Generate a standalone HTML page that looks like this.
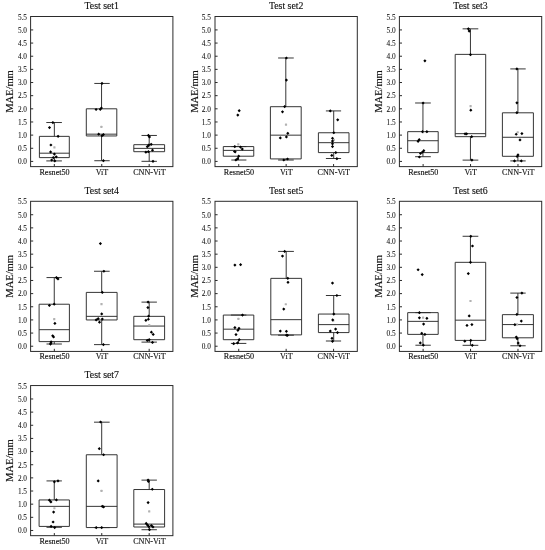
<!DOCTYPE html>
<html lang="en"><head><meta charset="utf-8"><title>Box plots of MAE on seven test sets</title>
<style>html,body{margin:0;padding:0;background:#fff}body{width:545px;height:550px;overflow:hidden}svg{display:block}</style>
</head><body>
<svg width="545" height="550" viewBox="0 0 545 550" font-family="Liberation Serif, Times New Roman, serif" fill="#111" stroke="#111" stroke-width="0.13" paint-order="stroke">
<rect width="545" height="550" fill="#fff" stroke="none"/>
<g>
<text x="101.75" y="9.1" font-size="9.8" text-anchor="middle">Test set1</text>
<text transform="translate(13.2,91.56) rotate(-90)" font-size="10.5" text-anchor="middle">MAE/mm</text>
<rect x="30.6" y="16.5" width="142.3" height="150.12" fill="none" stroke="#2b2b2b" stroke-width="1"/>
<text x="27" y="164.22" font-size="7.3" text-anchor="end" stroke-width="0.06">0.0</text>
<text x="27" y="151.07" font-size="7.3" text-anchor="end" stroke-width="0.06">0.5</text>
<text x="27" y="137.92" font-size="7.3" text-anchor="end" stroke-width="0.06">1.0</text>
<text x="27" y="124.77" font-size="7.3" text-anchor="end" stroke-width="0.06">1.5</text>
<text x="27" y="111.62" font-size="7.3" text-anchor="end" stroke-width="0.06">2.0</text>
<text x="27" y="98.47" font-size="7.3" text-anchor="end" stroke-width="0.06">2.5</text>
<text x="27" y="85.32" font-size="7.3" text-anchor="end" stroke-width="0.06">3.0</text>
<text x="27" y="72.17" font-size="7.3" text-anchor="end" stroke-width="0.06">3.5</text>
<text x="27" y="59.02" font-size="7.3" text-anchor="end" stroke-width="0.06">4.0</text>
<text x="27" y="45.87" font-size="7.3" text-anchor="end" stroke-width="0.06">4.5</text>
<text x="27" y="32.72" font-size="7.3" text-anchor="end" stroke-width="0.06">5.0</text>
<text x="27" y="19.57" font-size="7.3" text-anchor="end" stroke-width="0.06">5.5</text>
<path d="M30.6 161.42h2.6 M30.6 148.27h2.6 M30.6 135.12h2.6 M30.6 121.97h2.6 M30.6 108.82h2.6 M30.6 95.67h2.6 M30.6 82.52h2.6 M30.6 69.37h2.6 M30.6 56.22h2.6 M30.6 43.07h2.6 M30.6 29.92h2.6 M54.32 166.62v-2.6 M101.75 166.62v-2.6 M149.18 166.62v-2.6" stroke="#2b2b2b" stroke-width="1" fill="none"/>
<text x="54.52" y="175.37" font-size="8.15" text-anchor="middle">Resnet50</text>
<text x="101.95" y="175.37" font-size="8.15" text-anchor="middle">ViT</text>
<text x="149.38" y="175.37" font-size="8.15" text-anchor="middle">CNN-ViT</text>
<path d="M39.4 136.36H69.3V157.61H39.4Z M39.4 153.2H69.3 M54.35 136.36V122.53 M46.3 122.53H61.9 M54.35 157.61V160.92 M46.3 160.92H61.9" stroke="#2b2b2b" stroke-width="0.95" fill="none"/>
<rect x="53.3" y="146.29" width="2.2" height="2.2" rx="0.5" fill="#b2b2b2" stroke="none"/>
<path d="M52.9 120.93l1.6 1.6l-1.6 1.6l-1.6 -1.6Z M49.5 125.94l1.6 1.6l-1.6 1.6l-1.6 -1.6Z M58.1 134.76l1.6 1.6l-1.6 1.6l-1.6 -1.6Z M50.9 143.38l1.6 1.6l-1.6 1.6l-1.6 -1.6Z M50.6 150.3l1.6 1.6l-1.6 1.6l-1.6 -1.6Z M54.4 152.5l1.6 1.6l-1.6 1.6l-1.6 -1.6Z M56.2 155.21l1.6 1.6l-1.6 1.6l-1.6 -1.6Z M53.3 156.01l1.6 1.6l-1.6 1.6l-1.6 -1.6Z M51.7 158.52l1.6 1.6l-1.6 1.6l-1.6 -1.6Z M54.8 159.32l1.6 1.6l-1.6 1.6l-1.6 -1.6Z" fill="#000" stroke="none"/>
<path d="M86.3 108.8H116.8V135.96H86.3Z M86.3 134.16H116.8 M101.55 108.8V83.45 M94.3 83.45H109.7 M101.55 135.96V160.72 M94.3 160.72H109.7" stroke="#2b2b2b" stroke-width="0.95" fill="none"/>
<rect x="100.3" y="125.84" width="2.2" height="2.2" rx="0.5" fill="#b2b2b2" stroke="none"/>
<path d="M102 81.85l1.6 1.6l-1.6 1.6l-1.6 -1.6Z M101.4 106.4l1.6 1.6l-1.6 1.6l-1.6 -1.6Z M100.3 107.7l1.6 1.6l-1.6 1.6l-1.6 -1.6Z M96.1 107.9l1.6 1.6l-1.6 1.6l-1.6 -1.6Z M98.7 132.56l1.6 1.6l-1.6 1.6l-1.6 -1.6Z M103.4 132.96l1.6 1.6l-1.6 1.6l-1.6 -1.6Z M102 134.06l1.6 1.6l-1.6 1.6l-1.6 -1.6Z M103.4 159.12l1.6 1.6l-1.6 1.6l-1.6 -1.6Z" fill="#000" stroke="none"/>
<path d="M133.8 144.68H164.6V151.7H133.8Z M133.8 148.39H164.6 M149.2 144.68V135.46 M141.5 135.46H156.9 M149.2 151.7V161.32 M141.5 161.32H156.9" stroke="#2b2b2b" stroke-width="0.95" fill="none"/>
<rect x="148.1" y="145.29" width="2.2" height="2.2" rx="0.5" fill="#b2b2b2" stroke="none"/>
<path d="M148.4 133.86l1.6 1.6l-1.6 1.6l-1.6 -1.6Z M149.5 135.36l1.6 1.6l-1.6 1.6l-1.6 -1.6Z M151.2 142.68l1.6 1.6l-1.6 1.6l-1.6 -1.6Z M148.8 143.48l1.6 1.6l-1.6 1.6l-1.6 -1.6Z M147.3 145.09l1.6 1.6l-1.6 1.6l-1.6 -1.6Z M152.5 148.59l1.6 1.6l-1.6 1.6l-1.6 -1.6Z M148.4 150.1l1.6 1.6l-1.6 1.6l-1.6 -1.6Z M145.9 150.6l1.6 1.6l-1.6 1.6l-1.6 -1.6Z M153 159.72l1.6 1.6l-1.6 1.6l-1.6 -1.6Z" fill="#000" stroke="none"/>
</g>
<g>
<text x="286.15" y="9.1" font-size="9.8" text-anchor="middle">Test set2</text>
<text transform="translate(197.6,91.56) rotate(-90)" font-size="10.5" text-anchor="middle">MAE/mm</text>
<rect x="215" y="16.5" width="142.3" height="150.12" fill="none" stroke="#2b2b2b" stroke-width="1"/>
<text x="210.8" y="164.22" font-size="7.3" text-anchor="end" stroke-width="0.06">0.0</text>
<text x="210.8" y="151.07" font-size="7.3" text-anchor="end" stroke-width="0.06">0.5</text>
<text x="210.8" y="137.92" font-size="7.3" text-anchor="end" stroke-width="0.06">1.0</text>
<text x="210.8" y="124.77" font-size="7.3" text-anchor="end" stroke-width="0.06">1.5</text>
<text x="210.8" y="111.62" font-size="7.3" text-anchor="end" stroke-width="0.06">2.0</text>
<text x="210.8" y="98.47" font-size="7.3" text-anchor="end" stroke-width="0.06">2.5</text>
<text x="210.8" y="85.32" font-size="7.3" text-anchor="end" stroke-width="0.06">3.0</text>
<text x="210.8" y="72.17" font-size="7.3" text-anchor="end" stroke-width="0.06">3.5</text>
<text x="210.8" y="59.02" font-size="7.3" text-anchor="end" stroke-width="0.06">4.0</text>
<text x="210.8" y="45.87" font-size="7.3" text-anchor="end" stroke-width="0.06">4.5</text>
<text x="210.8" y="32.72" font-size="7.3" text-anchor="end" stroke-width="0.06">5.0</text>
<text x="210.8" y="19.57" font-size="7.3" text-anchor="end" stroke-width="0.06">5.5</text>
<path d="M215 161.42h2.6 M215 148.27h2.6 M215 135.12h2.6 M215 121.97h2.6 M215 108.82h2.6 M215 95.67h2.6 M215 82.52h2.6 M215 69.37h2.6 M215 56.22h2.6 M215 43.07h2.6 M215 29.92h2.6 M238.72 166.62v-2.6 M286.15 166.62v-2.6 M333.58 166.62v-2.6" stroke="#2b2b2b" stroke-width="1" fill="none"/>
<text x="238.92" y="175.37" font-size="8.15" text-anchor="middle">Resnet50</text>
<text x="286.35" y="175.37" font-size="8.15" text-anchor="middle">ViT</text>
<text x="333.78" y="175.37" font-size="8.15" text-anchor="middle">CNN-ViT</text>
<path d="M223.3 146.59H253.75V156.21H223.3Z M223.3 150.39H253.75 M231.3 146.59H246.4 M238.53 156.21V160.02 M231.3 160.02H246.4" stroke="#2b2b2b" stroke-width="0.95" fill="none"/>
<rect x="237.2" y="143.28" width="2.2" height="2.2" rx="0.5" fill="#b2b2b2" stroke="none"/>
<path d="M239.2 109.11l1.6 1.6l-1.6 1.6l-1.6 -1.6Z M237.8 113.52l1.6 1.6l-1.6 1.6l-1.6 -1.6Z M234.8 144.99l1.6 1.6l-1.6 1.6l-1.6 -1.6Z M240.5 145.49l1.6 1.6l-1.6 1.6l-1.6 -1.6Z M242.3 147.49l1.6 1.6l-1.6 1.6l-1.6 -1.6Z M234.5 149.9l1.6 1.6l-1.6 1.6l-1.6 -1.6Z M235.2 150.2l1.6 1.6l-1.6 1.6l-1.6 -1.6Z M238.7 154.61l1.6 1.6l-1.6 1.6l-1.6 -1.6Z M237.6 157.11l1.6 1.6l-1.6 1.6l-1.6 -1.6Z M235.9 158.42l1.6 1.6l-1.6 1.6l-1.6 -1.6Z" fill="#000" stroke="none"/>
<path d="M270.4 106.7H301.2V158.91H270.4Z M270.4 135.16H301.2 M285.8 106.7V57.99 M278.1 57.99H293.75 M285.8 158.91V160.02 M278.1 160.02H293.75" stroke="#2b2b2b" stroke-width="0.95" fill="none"/>
<rect x="284.9" y="123.44" width="2.2" height="2.2" rx="0.5" fill="#b2b2b2" stroke="none"/>
<path d="M286.4 56.39l1.6 1.6l-1.6 1.6l-1.6 -1.6Z M286.4 78.44l1.6 1.6l-1.6 1.6l-1.6 -1.6Z M284.7 105l1.6 1.6l-1.6 1.6l-1.6 -1.6Z M282.5 110.21l1.6 1.6l-1.6 1.6l-1.6 -1.6Z M287.8 131.76l1.6 1.6l-1.6 1.6l-1.6 -1.6Z M286.4 135.36l1.6 1.6l-1.6 1.6l-1.6 -1.6Z M280.3 136.37l1.6 1.6l-1.6 1.6l-1.6 -1.6Z M287.5 157.41l1.6 1.6l-1.6 1.6l-1.6 -1.6Z M283.8 158.42l1.6 1.6l-1.6 1.6l-1.6 -1.6Z" fill="#000" stroke="none"/>
<path d="M318.4 132.76H349V152.6H318.4Z M318.4 142.68H349 M333.7 132.76V110.91 M325.9 110.91H341.1 M333.7 152.6V158.51 M325.9 158.51H341.1" stroke="#2b2b2b" stroke-width="0.95" fill="none"/>
<rect x="332.7" y="138.87" width="2.2" height="2.2" rx="0.5" fill="#b2b2b2" stroke="none"/>
<path d="M330.3 109.31l1.6 1.6l-1.6 1.6l-1.6 -1.6Z M337.7 118.23l1.6 1.6l-1.6 1.6l-1.6 -1.6Z M333.8 131.16l1.6 1.6l-1.6 1.6l-1.6 -1.6Z M332.5 136.67l1.6 1.6l-1.6 1.6l-1.6 -1.6Z M332.5 139.47l1.6 1.6l-1.6 1.6l-1.6 -1.6Z M332.5 142.18l1.6 1.6l-1.6 1.6l-1.6 -1.6Z M332.5 144.99l1.6 1.6l-1.6 1.6l-1.6 -1.6Z M335.8 151l1.6 1.6l-1.6 1.6l-1.6 -1.6Z M331.8 153.8l1.6 1.6l-1.6 1.6l-1.6 -1.6Z M336.9 157.11l1.6 1.6l-1.6 1.6l-1.6 -1.6Z" fill="#000" stroke="none"/>
</g>
<g>
<text x="470.55" y="9.1" font-size="9.8" text-anchor="middle">Test set3</text>
<text transform="translate(382,91.56) rotate(-90)" font-size="10.5" text-anchor="middle">MAE/mm</text>
<rect x="399.4" y="16.5" width="142.3" height="150.12" fill="none" stroke="#2b2b2b" stroke-width="1"/>
<text x="395.7" y="164.22" font-size="7.3" text-anchor="end" stroke-width="0.06">0.0</text>
<text x="395.7" y="151.07" font-size="7.3" text-anchor="end" stroke-width="0.06">0.5</text>
<text x="395.7" y="137.92" font-size="7.3" text-anchor="end" stroke-width="0.06">1.0</text>
<text x="395.7" y="124.77" font-size="7.3" text-anchor="end" stroke-width="0.06">1.5</text>
<text x="395.7" y="111.62" font-size="7.3" text-anchor="end" stroke-width="0.06">2.0</text>
<text x="395.7" y="98.47" font-size="7.3" text-anchor="end" stroke-width="0.06">2.5</text>
<text x="395.7" y="85.32" font-size="7.3" text-anchor="end" stroke-width="0.06">3.0</text>
<text x="395.7" y="72.17" font-size="7.3" text-anchor="end" stroke-width="0.06">3.5</text>
<text x="395.7" y="59.02" font-size="7.3" text-anchor="end" stroke-width="0.06">4.0</text>
<text x="395.7" y="45.87" font-size="7.3" text-anchor="end" stroke-width="0.06">4.5</text>
<text x="395.7" y="32.72" font-size="7.3" text-anchor="end" stroke-width="0.06">5.0</text>
<text x="395.7" y="19.57" font-size="7.3" text-anchor="end" stroke-width="0.06">5.5</text>
<path d="M399.4 161.42h2.6 M399.4 148.27h2.6 M399.4 135.12h2.6 M399.4 121.97h2.6 M399.4 108.82h2.6 M399.4 95.67h2.6 M399.4 82.52h2.6 M399.4 69.37h2.6 M399.4 56.22h2.6 M399.4 43.07h2.6 M399.4 29.92h2.6 M423.12 166.62v-2.6 M470.55 166.62v-2.6 M517.98 166.62v-2.6" stroke="#2b2b2b" stroke-width="1" fill="none"/>
<text x="423.32" y="175.37" font-size="8.15" text-anchor="middle">Resnet50</text>
<text x="470.75" y="175.37" font-size="8.15" text-anchor="middle">ViT</text>
<text x="518.18" y="175.37" font-size="8.15" text-anchor="middle">CNN-ViT</text>
<path d="M407.7 131.65H438.2V152.6H407.7Z M407.7 140.72H438.2 M422.95 131.65V102.99 M415.1 102.99H430.8 M422.95 152.6V156.71 M415.1 156.71H430.8" stroke="#2b2b2b" stroke-width="0.95" fill="none"/>
<rect x="421.9" y="131.05" width="2.2" height="2.2" rx="0.5" fill="#b2b2b2" stroke="none"/>
<path d="M424.9 59.2l1.6 1.6l-1.6 1.6l-1.6 -1.6Z M423.1 101.39l1.6 1.6l-1.6 1.6l-1.6 -1.6Z M422.5 130.05l1.6 1.6l-1.6 1.6l-1.6 -1.6Z M426.9 130.05l1.6 1.6l-1.6 1.6l-1.6 -1.6Z M419.2 138.07l1.6 1.6l-1.6 1.6l-1.6 -1.6Z M418.1 139.77l1.6 1.6l-1.6 1.6l-1.6 -1.6Z M423.8 149.09l1.6 1.6l-1.6 1.6l-1.6 -1.6Z M422.5 150.5l1.6 1.6l-1.6 1.6l-1.6 -1.6Z M420.5 151.9l1.6 1.6l-1.6 1.6l-1.6 -1.6Z M419.4 155.41l1.6 1.6l-1.6 1.6l-1.6 -1.6Z" fill="#000" stroke="none"/>
<path d="M455.2 54.38H485.7V136.66H455.2Z M455.2 133.66H485.7 M470.45 54.38V28.83 M462.6 28.83H478.3 M470.45 136.66V160.12 M462.6 160.12H478.3" stroke="#2b2b2b" stroke-width="0.95" fill="none"/>
<rect x="469.5" y="105" width="2.2" height="2.2" rx="0.5" fill="#b2b2b2" stroke="none"/>
<path d="M468.4 27.23l1.6 1.6l-1.6 1.6l-1.6 -1.6Z M469.2 29.43l1.6 1.6l-1.6 1.6l-1.6 -1.6Z M470.5 53.08l1.6 1.6l-1.6 1.6l-1.6 -1.6Z M470.8 108.61l1.6 1.6l-1.6 1.6l-1.6 -1.6Z M465.1 132.26l1.6 1.6l-1.6 1.6l-1.6 -1.6Z M466.6 132.26l1.6 1.6l-1.6 1.6l-1.6 -1.6Z M471.7 135.06l1.6 1.6l-1.6 1.6l-1.6 -1.6Z M471.9 158.52l1.6 1.6l-1.6 1.6l-1.6 -1.6Z" fill="#000" stroke="none"/>
<path d="M502.4 112.81H533.4V156.31H502.4Z M502.4 137.27H533.4 M517.9 112.81V68.92 M510.3 68.92H525.7 M517.9 156.31V160.92 M510.3 160.92H525.7" stroke="#2b2b2b" stroke-width="0.95" fill="none"/>
<rect x="516.6" y="131.15" width="2.2" height="2.2" rx="0.5" fill="#b2b2b2" stroke="none"/>
<path d="M516.9 67.32l1.6 1.6l-1.6 1.6l-1.6 -1.6Z M516.9 101.19l1.6 1.6l-1.6 1.6l-1.6 -1.6Z M516.9 111.11l1.6 1.6l-1.6 1.6l-1.6 -1.6Z M516.2 132.66l1.6 1.6l-1.6 1.6l-1.6 -1.6Z M521.9 131.96l1.6 1.6l-1.6 1.6l-1.6 -1.6Z M520 138.37l1.6 1.6l-1.6 1.6l-1.6 -1.6Z M518 153.3l1.6 1.6l-1.6 1.6l-1.6 -1.6Z M517.1 154.91l1.6 1.6l-1.6 1.6l-1.6 -1.6Z M514.5 159.32l1.6 1.6l-1.6 1.6l-1.6 -1.6Z M521.3 159.32l1.6 1.6l-1.6 1.6l-1.6 -1.6Z" fill="#000" stroke="none"/>
</g>
<g>
<text x="101.75" y="193.9" font-size="9.8" text-anchor="middle">Test set4</text>
<text transform="translate(13.2,276.36) rotate(-90)" font-size="10.5" text-anchor="middle">MAE/mm</text>
<rect x="30.6" y="201.3" width="142.3" height="150.12" fill="none" stroke="#2b2b2b" stroke-width="1"/>
<text x="27" y="349.02" font-size="7.3" text-anchor="end" stroke-width="0.06">0.0</text>
<text x="27" y="335.87" font-size="7.3" text-anchor="end" stroke-width="0.06">0.5</text>
<text x="27" y="322.72" font-size="7.3" text-anchor="end" stroke-width="0.06">1.0</text>
<text x="27" y="309.57" font-size="7.3" text-anchor="end" stroke-width="0.06">1.5</text>
<text x="27" y="296.42" font-size="7.3" text-anchor="end" stroke-width="0.06">2.0</text>
<text x="27" y="283.27" font-size="7.3" text-anchor="end" stroke-width="0.06">2.5</text>
<text x="27" y="270.12" font-size="7.3" text-anchor="end" stroke-width="0.06">3.0</text>
<text x="27" y="256.97" font-size="7.3" text-anchor="end" stroke-width="0.06">3.5</text>
<text x="27" y="243.82" font-size="7.3" text-anchor="end" stroke-width="0.06">4.0</text>
<text x="27" y="230.67" font-size="7.3" text-anchor="end" stroke-width="0.06">4.5</text>
<text x="27" y="217.52" font-size="7.3" text-anchor="end" stroke-width="0.06">5.0</text>
<text x="27" y="204.37" font-size="7.3" text-anchor="end" stroke-width="0.06">5.5</text>
<path d="M30.6 346.22h2.6 M30.6 333.07h2.6 M30.6 319.92h2.6 M30.6 306.77h2.6 M30.6 293.62h2.6 M30.6 280.47h2.6 M30.6 267.32h2.6 M30.6 254.17h2.6 M30.6 241.02h2.6 M30.6 227.87h2.6 M30.6 214.72h2.6 M54.32 351.42v-2.6 M101.75 351.42v-2.6 M149.18 351.42v-2.6" stroke="#2b2b2b" stroke-width="1" fill="none"/>
<text x="54.52" y="359.32" font-size="8.15" text-anchor="middle">Resnet50</text>
<text x="101.95" y="359.32" font-size="8.15" text-anchor="middle">ViT</text>
<text x="149.38" y="359.32" font-size="8.15" text-anchor="middle">CNN-ViT</text>
<path d="M39.1 304.23H69.4V341.61H39.1Z M39.1 329.68H69.4 M54.25 304.23V277.57 M46.5 277.57H61.9 M54.25 341.61V344.01 M46.5 344.01H61.9" stroke="#2b2b2b" stroke-width="0.95" fill="none"/>
<rect x="53.1" y="318.06" width="2.2" height="2.2" rx="0.5" fill="#b2b2b2" stroke="none"/>
<path d="M56.4 275.97l1.6 1.6l-1.6 1.6l-1.6 -1.6Z M58 277.37l1.6 1.6l-1.6 1.6l-1.6 -1.6Z M54.2 302.53l1.6 1.6l-1.6 1.6l-1.6 -1.6Z M49.4 303.83l1.6 1.6l-1.6 1.6l-1.6 -1.6Z M54.9 321.87l1.6 1.6l-1.6 1.6l-1.6 -1.6Z M52.7 334.2l1.6 1.6l-1.6 1.6l-1.6 -1.6Z M53.6 335.4l1.6 1.6l-1.6 1.6l-1.6 -1.6Z M51.1 340.31l1.6 1.6l-1.6 1.6l-1.6 -1.6Z M50.9 341.61l1.6 1.6l-1.6 1.6l-1.6 -1.6Z M50.5 342.51l1.6 1.6l-1.6 1.6l-1.6 -1.6Z" fill="#000" stroke="none"/>
<path d="M86.3 292.4H117.1V319.96H86.3Z M86.3 316.35H117.1 M101.7 292.4V271.25 M94 271.25H109.7 M101.7 319.96V344.61 M94 344.61H109.7" stroke="#2b2b2b" stroke-width="0.95" fill="none"/>
<rect x="100.4" y="302.93" width="2.2" height="2.2" rx="0.5" fill="#b2b2b2" stroke="none"/>
<path d="M100.4 241.99l1.6 1.6l-1.6 1.6l-1.6 -1.6Z M103.9 269.65l1.6 1.6l-1.6 1.6l-1.6 -1.6Z M102.3 290.85l1.6 1.6l-1.6 1.6l-1.6 -1.6Z M101.7 312.35l1.6 1.6l-1.6 1.6l-1.6 -1.6Z M98.2 317.06l1.6 1.6l-1.6 1.6l-1.6 -1.6Z M102.3 317.46l1.6 1.6l-1.6 1.6l-1.6 -1.6Z M96.2 318.36l1.6 1.6l-1.6 1.6l-1.6 -1.6Z M99.5 320.57l1.6 1.6l-1.6 1.6l-1.6 -1.6Z M103.4 343.01l1.6 1.6l-1.6 1.6l-1.6 -1.6Z" fill="#000" stroke="none"/>
<path d="M133.8 316.35H164.6V339.7H133.8Z M133.8 326.07H164.6 M149.2 316.35V302.12 M141.5 302.12H156.9 M149.2 339.7V342.11 M141.5 342.11H156.9" stroke="#2b2b2b" stroke-width="0.95" fill="none"/>
<rect x="148.1" y="324.07" width="2.2" height="2.2" rx="0.5" fill="#b2b2b2" stroke="none"/>
<path d="M148.1 300.52l1.6 1.6l-1.6 1.6l-1.6 -1.6Z M147.9 305.93l1.6 1.6l-1.6 1.6l-1.6 -1.6Z M148.6 314.55l1.6 1.6l-1.6 1.6l-1.6 -1.6Z M148.4 317.66l1.6 1.6l-1.6 1.6l-1.6 -1.6Z M145.9 318.76l1.6 1.6l-1.6 1.6l-1.6 -1.6Z M151.4 330.59l1.6 1.6l-1.6 1.6l-1.6 -1.6Z M153.2 332.79l1.6 1.6l-1.6 1.6l-1.6 -1.6Z M149.2 338.1l1.6 1.6l-1.6 1.6l-1.6 -1.6Z M147.3 338.81l1.6 1.6l-1.6 1.6l-1.6 -1.6Z M152.5 340.81l1.6 1.6l-1.6 1.6l-1.6 -1.6Z" fill="#000" stroke="none"/>
</g>
<g>
<text x="286.15" y="193.9" font-size="9.8" text-anchor="middle">Test set5</text>
<text transform="translate(197.6,276.36) rotate(-90)" font-size="10.5" text-anchor="middle">MAE/mm</text>
<rect x="215" y="201.3" width="142.3" height="150.12" fill="none" stroke="#2b2b2b" stroke-width="1"/>
<text x="210.8" y="349.02" font-size="7.3" text-anchor="end" stroke-width="0.06">0.0</text>
<text x="210.8" y="335.87" font-size="7.3" text-anchor="end" stroke-width="0.06">0.5</text>
<text x="210.8" y="322.72" font-size="7.3" text-anchor="end" stroke-width="0.06">1.0</text>
<text x="210.8" y="309.57" font-size="7.3" text-anchor="end" stroke-width="0.06">1.5</text>
<text x="210.8" y="296.42" font-size="7.3" text-anchor="end" stroke-width="0.06">2.0</text>
<text x="210.8" y="283.27" font-size="7.3" text-anchor="end" stroke-width="0.06">2.5</text>
<text x="210.8" y="270.12" font-size="7.3" text-anchor="end" stroke-width="0.06">3.0</text>
<text x="210.8" y="256.97" font-size="7.3" text-anchor="end" stroke-width="0.06">3.5</text>
<text x="210.8" y="243.82" font-size="7.3" text-anchor="end" stroke-width="0.06">4.0</text>
<text x="210.8" y="230.67" font-size="7.3" text-anchor="end" stroke-width="0.06">4.5</text>
<text x="210.8" y="217.52" font-size="7.3" text-anchor="end" stroke-width="0.06">5.0</text>
<text x="210.8" y="204.37" font-size="7.3" text-anchor="end" stroke-width="0.06">5.5</text>
<path d="M215 346.22h2.6 M215 333.07h2.6 M215 319.92h2.6 M215 306.77h2.6 M215 293.62h2.6 M215 280.47h2.6 M215 267.32h2.6 M215 254.17h2.6 M215 241.02h2.6 M215 227.87h2.6 M215 214.72h2.6 M238.72 351.42v-2.6 M286.15 351.42v-2.6 M333.58 351.42v-2.6" stroke="#2b2b2b" stroke-width="1" fill="none"/>
<text x="238.92" y="359.32" font-size="8.15" text-anchor="middle">Resnet50</text>
<text x="286.35" y="359.32" font-size="8.15" text-anchor="middle">ViT</text>
<text x="333.78" y="359.32" font-size="8.15" text-anchor="middle">CNN-ViT</text>
<path d="M223.3 315.05H253.8V339.7H223.3Z M223.3 329.18H253.8 M230.9 315.05H246.35 M238.55 339.7V343.41 M230.9 343.41H246.35" stroke="#2b2b2b" stroke-width="0.95" fill="none"/>
<rect x="237.3" y="317.86" width="2.2" height="2.2" rx="0.5" fill="#b2b2b2" stroke="none"/>
<path d="M234.9 263.44l1.6 1.6l-1.6 1.6l-1.6 -1.6Z M240.6 263.04l1.6 1.6l-1.6 1.6l-1.6 -1.6Z M242.5 313.45l1.6 1.6l-1.6 1.6l-1.6 -1.6Z M234.9 325.98l1.6 1.6l-1.6 1.6l-1.6 -1.6Z M239 326.68l1.6 1.6l-1.6 1.6l-1.6 -1.6Z M237.9 328.68l1.6 1.6l-1.6 1.6l-1.6 -1.6Z M236 332.99l1.6 1.6l-1.6 1.6l-1.6 -1.6Z M239.2 338.1l1.6 1.6l-1.6 1.6l-1.6 -1.6Z M237.5 341.31l1.6 1.6l-1.6 1.6l-1.6 -1.6Z M233.7 342.11l1.6 1.6l-1.6 1.6l-1.6 -1.6Z" fill="#000" stroke="none"/>
<path d="M270.8 278.37H301.6V334.89H270.8Z M270.8 319.66H301.6 M286.2 278.37V251.41 M278.1 251.41H293.9 M286.2 334.89V335.19 M278.1 335.19H293.9" stroke="#2b2b2b" stroke-width="0.95" fill="none"/>
<rect x="284.7" y="303.13" width="2.2" height="2.2" rx="0.5" fill="#b2b2b2" stroke="none"/>
<path d="M284.7 249.81l1.6 1.6l-1.6 1.6l-1.6 -1.6Z M282.5 254.52l1.6 1.6l-1.6 1.6l-1.6 -1.6Z M287.8 276.77l1.6 1.6l-1.6 1.6l-1.6 -1.6Z M288 280.68l1.6 1.6l-1.6 1.6l-1.6 -1.6Z M283.75 307.44l1.6 1.6l-1.6 1.6l-1.6 -1.6Z M280.3 329.48l1.6 1.6l-1.6 1.6l-1.6 -1.6Z M286.4 329.69l1.6 1.6l-1.6 1.6l-1.6 -1.6Z M286.5 333.59l1.6 1.6l-1.6 1.6l-1.6 -1.6Z M287.5 333.69l1.6 1.6l-1.6 1.6l-1.6 -1.6Z" fill="#000" stroke="none"/>
<path d="M318.4 314.05H349V332.59H318.4Z M318.4 324.62H349 M333.7 314.05V295.51 M325.9 295.51H341.1 M333.7 332.59V341.01 M325.9 341.01H341.1" stroke="#2b2b2b" stroke-width="0.95" fill="none"/>
<rect x="332.1" y="319.46" width="2.2" height="2.2" rx="0.5" fill="#b2b2b2" stroke="none"/>
<path d="M332.5 281.48l1.6 1.6l-1.6 1.6l-1.6 -1.6Z M336.9 293.91l1.6 1.6l-1.6 1.6l-1.6 -1.6Z M333.8 312.45l1.6 1.6l-1.6 1.6l-1.6 -1.6Z M332.7 318.36l1.6 1.6l-1.6 1.6l-1.6 -1.6Z M335.6 327.48l1.6 1.6l-1.6 1.6l-1.6 -1.6Z M330.3 329.48l1.6 1.6l-1.6 1.6l-1.6 -1.6Z M337.5 330.99l1.6 1.6l-1.6 1.6l-1.6 -1.6Z M332 336.7l1.6 1.6l-1.6 1.6l-1.6 -1.6Z M332.5 339.71l1.6 1.6l-1.6 1.6l-1.6 -1.6Z" fill="#000" stroke="none"/>
</g>
<g>
<text x="470.55" y="193.9" font-size="9.8" text-anchor="middle">Test set6</text>
<text transform="translate(382,276.36) rotate(-90)" font-size="10.5" text-anchor="middle">MAE/mm</text>
<rect x="399.4" y="201.3" width="142.3" height="150.12" fill="none" stroke="#2b2b2b" stroke-width="1"/>
<text x="395.7" y="349.02" font-size="7.3" text-anchor="end" stroke-width="0.06">0.0</text>
<text x="395.7" y="335.87" font-size="7.3" text-anchor="end" stroke-width="0.06">0.5</text>
<text x="395.7" y="322.72" font-size="7.3" text-anchor="end" stroke-width="0.06">1.0</text>
<text x="395.7" y="309.57" font-size="7.3" text-anchor="end" stroke-width="0.06">1.5</text>
<text x="395.7" y="296.42" font-size="7.3" text-anchor="end" stroke-width="0.06">2.0</text>
<text x="395.7" y="283.27" font-size="7.3" text-anchor="end" stroke-width="0.06">2.5</text>
<text x="395.7" y="270.12" font-size="7.3" text-anchor="end" stroke-width="0.06">3.0</text>
<text x="395.7" y="256.97" font-size="7.3" text-anchor="end" stroke-width="0.06">3.5</text>
<text x="395.7" y="243.82" font-size="7.3" text-anchor="end" stroke-width="0.06">4.0</text>
<text x="395.7" y="230.67" font-size="7.3" text-anchor="end" stroke-width="0.06">4.5</text>
<text x="395.7" y="217.52" font-size="7.3" text-anchor="end" stroke-width="0.06">5.0</text>
<text x="395.7" y="204.37" font-size="7.3" text-anchor="end" stroke-width="0.06">5.5</text>
<path d="M399.4 346.22h2.6 M399.4 333.07h2.6 M399.4 319.92h2.6 M399.4 306.77h2.6 M399.4 293.62h2.6 M399.4 280.47h2.6 M399.4 267.32h2.6 M399.4 254.17h2.6 M399.4 241.02h2.6 M399.4 227.87h2.6 M399.4 214.72h2.6 M423.12 351.42v-2.6 M470.55 351.42v-2.6 M517.98 351.42v-2.6" stroke="#2b2b2b" stroke-width="1" fill="none"/>
<text x="423.32" y="359.32" font-size="8.15" text-anchor="middle">Resnet50</text>
<text x="470.75" y="359.32" font-size="8.15" text-anchor="middle">ViT</text>
<text x="518.18" y="359.32" font-size="8.15" text-anchor="middle">CNN-ViT</text>
<path d="M407.7 312.64H438.2V334.39H407.7Z M407.7 321.36H438.2 M415.4 312.64H430.8 M422.95 334.39V345.22 M415.4 345.22H430.8" stroke="#2b2b2b" stroke-width="0.95" fill="none"/>
<rect x="422" y="316.46" width="2.2" height="2.2" rx="0.5" fill="#b2b2b2" stroke="none"/>
<path d="M418.1 268.15l1.6 1.6l-1.6 1.6l-1.6 -1.6Z M422.2 272.96l1.6 1.6l-1.6 1.6l-1.6 -1.6Z M419.4 311.04l1.6 1.6l-1.6 1.6l-1.6 -1.6Z M419.4 316.26l1.6 1.6l-1.6 1.6l-1.6 -1.6Z M426.9 316.76l1.6 1.6l-1.6 1.6l-1.6 -1.6Z M423.6 322.47l1.6 1.6l-1.6 1.6l-1.6 -1.6Z M421.75 331.69l1.6 1.6l-1.6 1.6l-1.6 -1.6Z M424.9 332.79l1.6 1.6l-1.6 1.6l-1.6 -1.6Z M420.3 341.31l1.6 1.6l-1.6 1.6l-1.6 -1.6Z M423.3 343.62l1.6 1.6l-1.6 1.6l-1.6 -1.6Z" fill="#000" stroke="none"/>
<path d="M455.2 262.33H485.7V340.41H455.2Z M455.2 320.16H485.7 M470.45 262.33V236.28 M462.6 236.28H478.3 M470.45 340.41V345.32 M462.6 345.32H478.3" stroke="#2b2b2b" stroke-width="0.95" fill="none"/>
<rect x="469.4" y="299.92" width="2.2" height="2.2" rx="0.5" fill="#b2b2b2" stroke="none"/>
<path d="M470.8 234.68l1.6 1.6l-1.6 1.6l-1.6 -1.6Z M472.5 244.4l1.6 1.6l-1.6 1.6l-1.6 -1.6Z M470.5 260.73l1.6 1.6l-1.6 1.6l-1.6 -1.6Z M468.3 271.96l1.6 1.6l-1.6 1.6l-1.6 -1.6Z M469.2 314.3l1.6 1.6l-1.6 1.6l-1.6 -1.6Z M467 323.87l1.6 1.6l-1.6 1.6l-1.6 -1.6Z M471.9 323.02l1.6 1.6l-1.6 1.6l-1.6 -1.6Z M464.8 339.61l1.6 1.6l-1.6 1.6l-1.6 -1.6Z M470.8 338.81l1.6 1.6l-1.6 1.6l-1.6 -1.6Z M472.3 343.72l1.6 1.6l-1.6 1.6l-1.6 -1.6Z" fill="#000" stroke="none"/>
<path d="M502.4 314.65H533.4V337.8H502.4Z M502.4 324.57H533.4 M517.9 314.65V293.1 M510.3 293.1H525.7 M517.9 337.8V345.77 M510.3 345.77H525.7" stroke="#2b2b2b" stroke-width="0.95" fill="none"/>
<rect x="516" y="323.27" width="2.2" height="2.2" rx="0.5" fill="#b2b2b2" stroke="none"/>
<path d="M521.9 291.5l1.6 1.6l-1.6 1.6l-1.6 -1.6Z M516.9 295.91l1.6 1.6l-1.6 1.6l-1.6 -1.6Z M516.9 312.85l1.6 1.6l-1.6 1.6l-1.6 -1.6Z M521.3 319.46l1.6 1.6l-1.6 1.6l-1.6 -1.6Z M514.9 323.07l1.6 1.6l-1.6 1.6l-1.6 -1.6Z M516.3 335.45l1.6 1.6l-1.6 1.6l-1.6 -1.6Z M517.1 337.1l1.6 1.6l-1.6 1.6l-1.6 -1.6Z M518.2 341.51l1.6 1.6l-1.6 1.6l-1.6 -1.6Z M520 344.17l1.6 1.6l-1.6 1.6l-1.6 -1.6Z" fill="#000" stroke="none"/>
</g>
<g>
<text x="101.75" y="378.15" font-size="9.8" text-anchor="middle">Test set7</text>
<text transform="translate(13.2,460.61) rotate(-90)" font-size="10.5" text-anchor="middle">MAE/mm</text>
<rect x="30.6" y="385.55" width="142.3" height="150.12" fill="none" stroke="#2b2b2b" stroke-width="1"/>
<text x="27" y="533.27" font-size="7.3" text-anchor="end" stroke-width="0.06">0.0</text>
<text x="27" y="520.12" font-size="7.3" text-anchor="end" stroke-width="0.06">0.5</text>
<text x="27" y="506.97" font-size="7.3" text-anchor="end" stroke-width="0.06">1.0</text>
<text x="27" y="493.82" font-size="7.3" text-anchor="end" stroke-width="0.06">1.5</text>
<text x="27" y="480.67" font-size="7.3" text-anchor="end" stroke-width="0.06">2.0</text>
<text x="27" y="467.52" font-size="7.3" text-anchor="end" stroke-width="0.06">2.5</text>
<text x="27" y="454.37" font-size="7.3" text-anchor="end" stroke-width="0.06">3.0</text>
<text x="27" y="441.22" font-size="7.3" text-anchor="end" stroke-width="0.06">3.5</text>
<text x="27" y="428.07" font-size="7.3" text-anchor="end" stroke-width="0.06">4.0</text>
<text x="27" y="414.92" font-size="7.3" text-anchor="end" stroke-width="0.06">4.5</text>
<text x="27" y="401.77" font-size="7.3" text-anchor="end" stroke-width="0.06">5.0</text>
<text x="27" y="388.62" font-size="7.3" text-anchor="end" stroke-width="0.06">5.5</text>
<path d="M30.6 530.47h2.6 M30.6 517.32h2.6 M30.6 504.17h2.6 M30.6 491.02h2.6 M30.6 477.87h2.6 M30.6 464.72h2.6 M30.6 451.57h2.6 M30.6 438.42h2.6 M30.6 425.27h2.6 M30.6 412.12h2.6 M30.6 398.97h2.6 M54.32 535.67v-2.6 M101.75 535.67v-2.6 M149.18 535.67v-2.6" stroke="#2b2b2b" stroke-width="1" fill="none"/>
<text x="54.52" y="544.42" font-size="8.15" text-anchor="middle">Resnet50</text>
<text x="101.95" y="544.42" font-size="8.15" text-anchor="middle">ViT</text>
<text x="149.38" y="544.42" font-size="8.15" text-anchor="middle">CNN-ViT</text>
<path d="M39.1 499.95H69.4V526.41H39.1Z M39.1 506.37H69.4 M54.25 499.95V480.91 M46.5 480.91H61.9 M54.25 526.41V527.31 M46.5 527.31H61.9" stroke="#2b2b2b" stroke-width="0.95" fill="none"/>
<rect x="53.3" y="507.17" width="2.2" height="2.2" rx="0.5" fill="#b2b2b2" stroke="none"/>
<path d="M58 479.31l1.6 1.6l-1.6 1.6l-1.6 -1.6Z M54.4 480.21l1.6 1.6l-1.6 1.6l-1.6 -1.6Z M49.4 498.55l1.6 1.6l-1.6 1.6l-1.6 -1.6Z M56.4 498.35l1.6 1.6l-1.6 1.6l-1.6 -1.6Z M50.9 500.36l1.6 1.6l-1.6 1.6l-1.6 -1.6Z M53.6 510.48l1.6 1.6l-1.6 1.6l-1.6 -1.6Z M53.1 520.4l1.6 1.6l-1.6 1.6l-1.6 -1.6Z M51.1 524.81l1.6 1.6l-1.6 1.6l-1.6 -1.6Z M54.7 525.96l1.6 1.6l-1.6 1.6l-1.6 -1.6Z" fill="#000" stroke="none"/>
<path d="M86.3 454.75H117.1V527.56H86.3Z M86.3 506.37H117.1 M101.7 454.75V422.18 M94 422.18H109.65 M94 527.61H109.65" stroke="#2b2b2b" stroke-width="0.95" fill="none"/>
<rect x="100.4" y="489.83" width="2.2" height="2.2" rx="0.5" fill="#b2b2b2" stroke="none"/>
<path d="M100.6 420.38l1.6 1.6l-1.6 1.6l-1.6 -1.6Z M99.3 447.04l1.6 1.6l-1.6 1.6l-1.6 -1.6Z M103.6 453.15l1.6 1.6l-1.6 1.6l-1.6 -1.6Z M98.2 479.31l1.6 1.6l-1.6 1.6l-1.6 -1.6Z M102.3 504.77l1.6 1.6l-1.6 1.6l-1.6 -1.6Z M103.6 505.37l1.6 1.6l-1.6 1.6l-1.6 -1.6Z M96.2 525.96l1.6 1.6l-1.6 1.6l-1.6 -1.6Z M101.7 525.96l1.6 1.6l-1.6 1.6l-1.6 -1.6Z" fill="#000" stroke="none"/>
<path d="M133.8 489.53H164.6V527.01H133.8Z M133.8 524.1H164.6 M149.2 489.53V480.11 M141.5 480.11H156.9 M149.2 527.01V529.72 M141.5 529.72H156.9" stroke="#2b2b2b" stroke-width="0.95" fill="none"/>
<rect x="148.1" y="510.28" width="2.2" height="2.2" rx="0.5" fill="#b2b2b2" stroke="none"/>
<path d="M148.1 478.51l1.6 1.6l-1.6 1.6l-1.6 -1.6Z M148.4 479.91l1.6 1.6l-1.6 1.6l-1.6 -1.6Z M152.3 487.63l1.6 1.6l-1.6 1.6l-1.6 -1.6Z M148.1 500.96l1.6 1.6l-1.6 1.6l-1.6 -1.6Z M146.2 521.8l1.6 1.6l-1.6 1.6l-1.6 -1.6Z M147.5 523.51l1.6 1.6l-1.6 1.6l-1.6 -1.6Z M148.8 525.01l1.6 1.6l-1.6 1.6l-1.6 -1.6Z M151.4 523.91l1.6 1.6l-1.6 1.6l-1.6 -1.6Z M153 525.41l1.6 1.6l-1.6 1.6l-1.6 -1.6Z M149.5 528.12l1.6 1.6l-1.6 1.6l-1.6 -1.6Z" fill="#000" stroke="none"/>
</g>
</svg>
</body></html>
